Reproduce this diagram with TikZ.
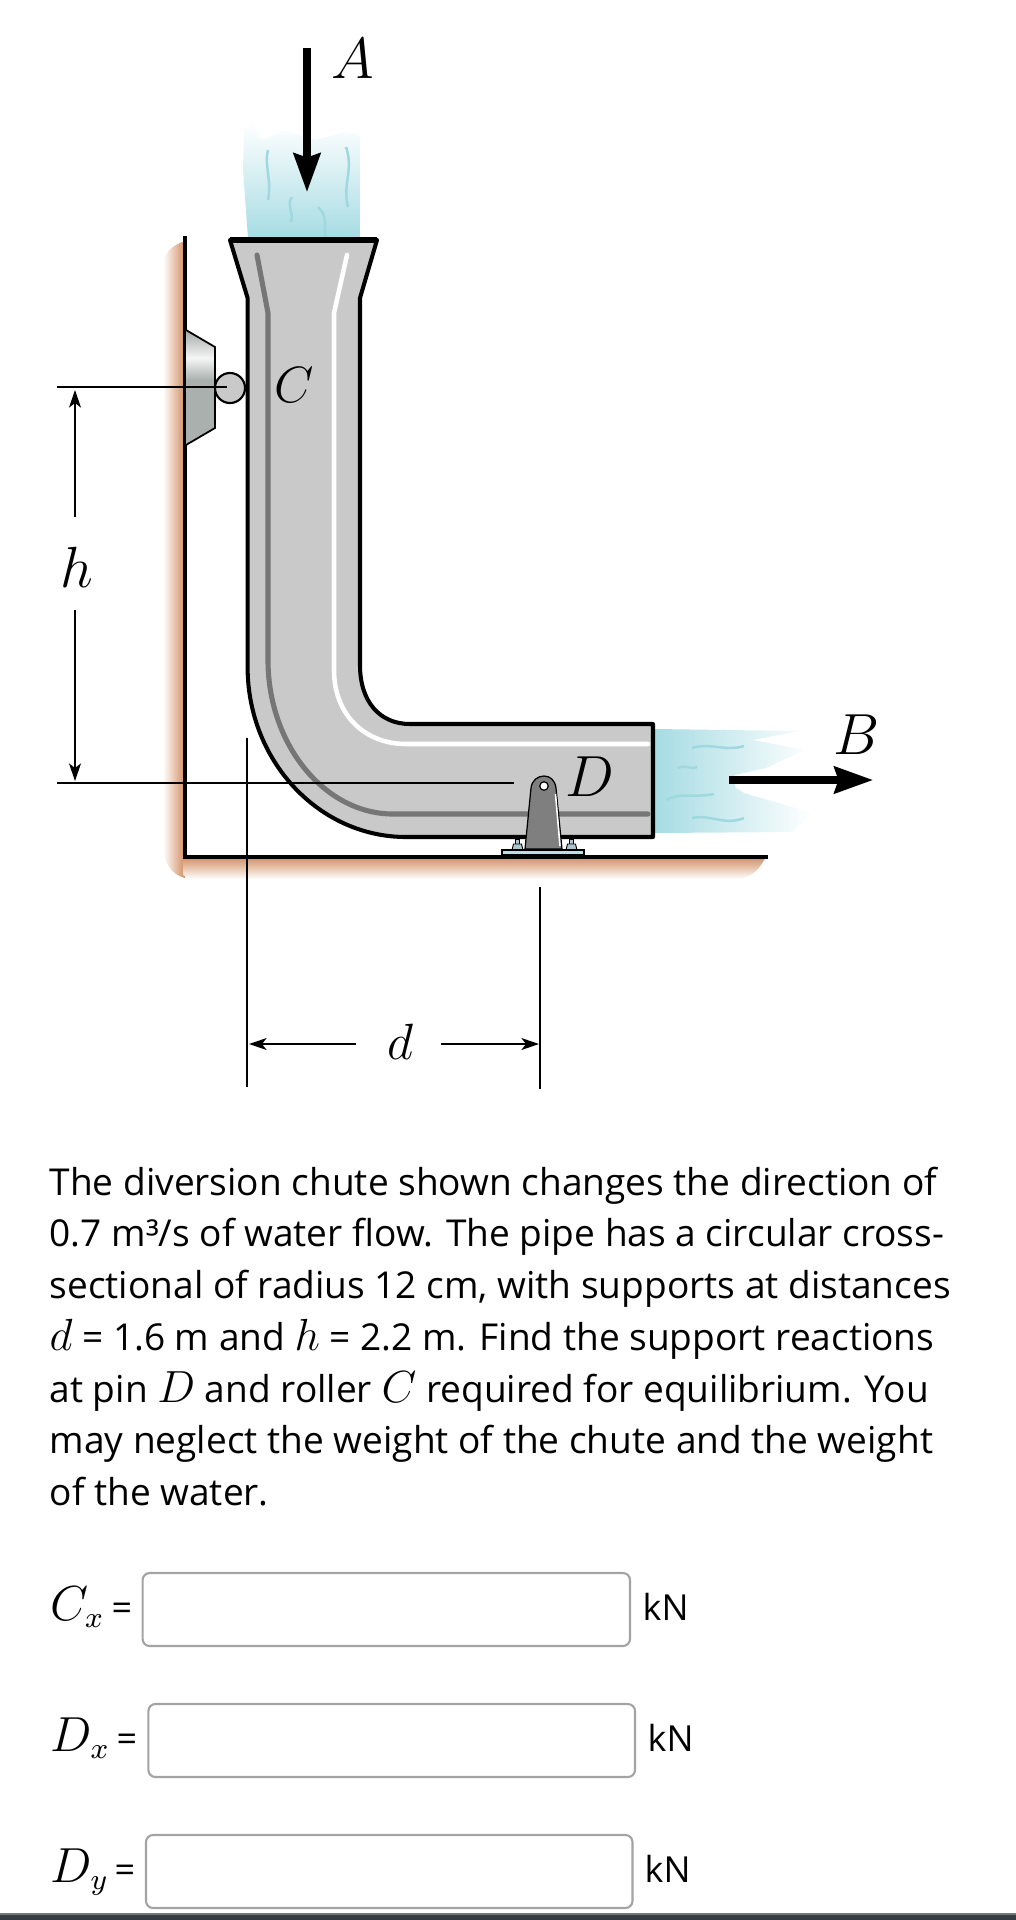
\RequirePackage{fix-cm}
\documentclass[tikz,border=0pt]{standalone}
\usepackage{fontspec}
\setmainfont{Open Sans}
\usetikzlibrary{arrows.meta}
\definecolor{chute}{HTML}{C9C9C9}
\definecolor{chuteline}{HTML}{767676}
\definecolor{water}{HTML}{A6DCE3}
\definecolor{wave}{HTML}{A0D8E0}
\definecolor{brick}{HTML}{D28D60}
\definecolor{steel}{HTML}{A9B0AE}
\definecolor{pinbody}{HTML}{7F7F7F}
\definecolor{plate}{HTML}{BADFE4}
\definecolor{inputline}{HTML}{A3A3A3}
\definecolor{barcol}{HTML}{383D43}
\newcommand\mvar[1]{{\fontsize{12.8}{14}\selectfont$#1$}}
\newcommand\subv[1]{\mbox{\fontsize{8.4}{9}\selectfont$#1$}}
\tikzset{
  dimline/.style={line width=0.48pt,black},
  dimarrow/.style={dimline,-{Stealth[length=5pt,width=3.4pt,inset=1.3pt]}},
  flow/.style={line width=2pt,black,-{Stealth[length=11pt,width=7.6pt,inset=1.2pt]}},
  letter/.style={inner sep=0pt,font=\fontsize{16.5}{18}\selectfont},
  smallletter/.style={inner sep=0pt,font=\fontsize{14.5}{16}\selectfont},
  wavy/.style={wave,line width=0.7pt},
  answerbox/.style={draw=inputline,line width=0.6pt,fill=white,rounded corners=2pt},
  answerlabel/.style={inner sep=0pt,anchor=base west,font=\fontsize{14}{16}\selectfont},
  equalsign/.style={inner sep=0pt,anchor=base,font=\fontsize{10.2}{12}\selectfont},
  unitlabel/.style={inner sep=0pt,anchor=base west,font=\fontsize{10.2}{12}\selectfont},
  bolt/.style={fill=plate!75!gray,draw=black,line width=0.25pt}
}
\begin{document}
\begin{tikzpicture}[x=0.01cm,y=-0.01cm]
\useasboundingbox (0,0) rectangle (1016,1920);
% wall and floor
\shade[left color=white,middle color=brick!70!white,right color=brick] (163,875) -- (163,265) .. controls (163,252) and (175,244) .. (185,241) -- (185,878) .. controls (175,875) and (167,870) .. (163,850) -- cycle;
\shade[top color=brick,middle color=brick!65!white,bottom color=white] (183,857) -- (768,857) -- (764,860) .. controls (758,872) and (748,879) .. (735,879) -- (200,879) .. controls (192,879) and (186,877) .. (183,875) -- cycle;
\draw[line width=1pt] (185,236) -- (185,857) -- (768,857);
% incoming water
\shade[top color=white,bottom color=water] (248,238) -- (243,170) -- (244,130) -- (252,122) -- (262,140) -- (285,130) -- (315,140) -- (345,132) -- (360,135) -- (360,238) -- cycle;
\draw[wavy] (268,150) .. controls (264,165) and (272,180) .. (268,200);
\draw[wavy] (346,147) .. controls (354,170) and (342,185) .. (348,207);
\draw[wavy] (292,197) .. controls (286,205) and (294,212) .. (291,222);
\draw[wavy] (318,207) .. controls (330,218) and (322,228) .. (326,238);
% outgoing water
\shade[left color=water,right color=white] (655,729) -- (800,731) -- (753,740) -- (805,750) -- (766,768) -- (735,775) -- (735,787) -- (744,793) -- (813,813) -- (792,832) -- (655,833) -- cycle;
\draw[wavy] (692,748) .. controls (710,742) and (725,752) .. (744,746);
\draw[wavy] (678,768) .. controls (685,764) and (690,770) .. (697,767);
\draw[wavy] (666,800) .. controls (680,792) and (695,798) .. (714,794);
\draw[wavy] (692,818) .. controls (710,814) and (725,826) .. (744,818);
% support of roller C
\begin{scope}
\clip (186,330) -- (215,347) -- (215,428) -- (186,445) -- cycle;
\fill[steel] (186,330) rectangle (215,445);
\shade[top color=steel!85!gray,bottom color=white!88!steel] (186,330) rectangle (215,358);
\shade[top color=white!88!steel,bottom color=steel] (186,358) rectangle (215,380);
\end{scope}
\draw[line width=0.5pt] (186,330) -- (215,347) -- (215,428) -- (186,445);
% chute
\path[fill=chute,draw=black,line width=1.15pt,line join=round]
  (230,240) -- (377,240) -- (360,298) -- (360,665)
  .. controls (360,702) and (380,724) .. (410,724) -- (653,724) -- (653,837) -- (406,837)
  .. controls (319,837) and (247.6,761) .. (247.6,667) -- (247.6,298) -- cycle;
\draw[line width=1.5pt,line join=round] (230,240) -- (377,240);
\draw[chuteline,line width=1.45pt,line cap=round,line join=round] (257,255) -- (268,313) -- (268,660)
  .. controls (268,745) and (325,814) .. (393,814) -- (648,814);
\draw[white,line width=1.3pt,line cap=round,line join=round] (347,255) -- (334,313) -- (334,670)
  .. controls (334,715) and (365,744) .. (406,744) -- (648,744);
% roller C
\node[circle,draw=black,fill=chute,line width=0.6pt,inner sep=0pt,minimum size=0.3cm] (roller) at (230,388) {};
% pin D
\draw[bolt] (515,844) rectangle (519,839);
\draw[bolt] (569,844) rectangle (573,839);
\draw[bolt] (512,850) -- (513.5,844) -- (521.5,844) -- (523,850) -- cycle;
\draw[bolt] (566,850) -- (567.5,844) -- (575.5,844) -- (577,850) -- cycle;
\draw[fill=plate,line width=0.5pt] (502,850) rectangle (584,855);
\path[fill=pinbody,draw=black,line width=0.35pt] (525,849) -- (531,788) .. controls (532,780) and (538,776) .. (544,776) .. controls (550,776) and (555,780) .. (556,788) -- (562,849) -- cycle;
\draw[white,line width=0.45pt] (555.5,794) -- (560,846);
\node[circle,draw=black,fill=white,line width=0.35pt,inner sep=0pt,minimum size=0.085cm] (pinhole) at (544,786) {};
% dimension lines
\coordinate (hTopEnd) at (57,387);
\coordinate (hTopRight) at (227,387);
\coordinate (hBotEnd) at (57,783);
\coordinate (hBotRight) at (514,783);
\draw[dimline] (hTopEnd) -- (hTopRight);
\draw[dimline] (hBotEnd) -- (hBotRight);
\node[letter] (h) at (77,567) {$h$};
\coordinate (hA1) at (75,517); \coordinate (hA2) at (75,390);
\coordinate (hB1) at (75,610); \coordinate (hB2) at (75,781);
\draw[dimarrow] (hA1) -- (hA2);
\draw[dimarrow] (hB1) -- (hB2);
\coordinate (dL1) at (247,738); \coordinate (dL2) at (247,1087);
\coordinate (dR1) at (540,887); \coordinate (dR2) at (540,1089);
\draw[dimline] (dL1) -- (dL2);
\draw[dimline] (dR1) -- (dR2);
\node[smallletter] (d) at (400,1042) {$d$};
\coordinate (dA1) at (356,1044); \coordinate (dA2) at (249,1044);
\coordinate (dB1) at (441,1044); \coordinate (dB2) at (539,1044);
\draw[dimarrow] (dA1) -- (dA2);
\draw[dimarrow] (dB1) -- (dB2);
% flow arrows
\coordinate (aS) at (307,48); \coordinate (aE) at (307,192);
\coordinate (bS) at (729,780); \coordinate (bE) at (873,780);
\draw[flow] (aS) -- (aE);
\draw[flow] (bS) -- (bE);
% letters
\node[letter] (A) at (353,59) {$A$};
\node[letter] (B) at (857,735) {$B$};
\node[letter,font=\fontsize{14.5}{16}\selectfont] (C) at (294,385) {$C$};
\node[letter] (D) at (590,777) {$D$};
% problem text
\node[anchor=north west,align=left,inner sep=0pt,font=\fontsize{10.54}{14.72}\selectfont] (problem) at (49,1166) {The diversion chute shown changes the direction of\\
0.7 m³/s of water flow. The pipe has a circular cross-\\
sectional of radius 12 cm, with supports at distances\\
\mvar{d} = 1.6 m and \mvar{h} = 2.2 m. Find the support reactions\\
at pin \mvar{D} and roller \mvar{C} required for equilibrium. You\\
may neglect the weight of the chute and the weight\\
of the water.};
% answers
\node[answerlabel] (cxl) at (50,1620) {$C_{\subv{x}}$};
\node[equalsign] (cxe) at (122,1620) {=};
\draw[answerbox] (142.6,1573) rectangle (630,1646);
\node[unitlabel] (cxu) at (642,1620) {kN};
\node[answerlabel] (dxl) at (50,1751) {$D_{\subv{x}}$};
\node[equalsign] (dxe) at (127,1751) {=};
\draw[answerbox] (148.4,1704) rectangle (635,1777);
\node[unitlabel] (dxu) at (647,1751) {kN};
\node[answerlabel] (dyl) at (50,1882) {$D_{\subv{y}}$};
\node[equalsign] (dye) at (125,1882) {=};
\draw[answerbox] (146,1835) rectangle (632.5,1908);
\node[unitlabel] (dyu) at (644,1882) {kN};
% bottom bar
\fill[barcol] (0,1913) rectangle (1016,1920);
\fill[barcol!70!white] (0,1912.5) rectangle (1016,1914.5);
\end{tikzpicture}
\end{document}
